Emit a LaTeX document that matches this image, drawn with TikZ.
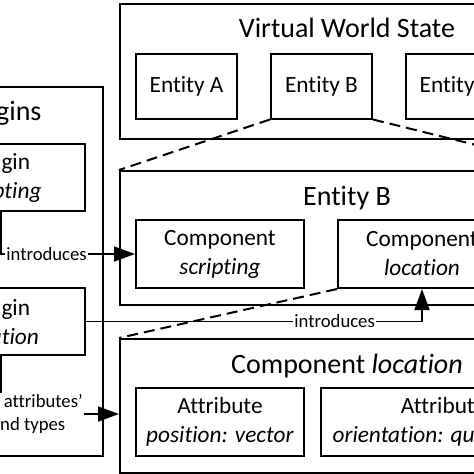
\documentclass[tikz,border=0pt]{standalone}
\usepackage{fontspec}
\setmainfont[RawFeature={-liga;-clig;-calt;-dlig}]{Carlito}
\usetikzlibrary{arrows.meta,positioning}

\begin{document}
\begin{tikzpicture}[x=1pt,y=-1pt,>={Triangle[length=21pt,width=15pt]},
  every node/.style={font=\fontsize{23.3}{29}\selectfont},
  frame/.style={draw,line width=2pt,anchor=north west,inner sep=0pt},
  box/.style={draw,line width=2pt,minimum width=168pt,minimum height=68pt,align=center,inner sep=0pt},
  entbox/.style={box,minimum width=101pt,minimum height=65pt},
  title/.style={anchor=base,font=\fontsize{28}{34}\selectfont},
  note/.style={fill=white,inner sep=1pt,font=\fontsize{18.7}{23}\selectfont},
  conn/.style={->,line width=1.9pt},
  zoomline/.style={line width=2pt,dash pattern=on 11pt off 6pt}]
  \useasboundingbox (0,0) rectangle (474,474);
  \clip (0,0) rectangle (474,474);

  % virtual world
  \node[frame,minimum width=456pt,minimum height=135pt] (world) at (119,2.5) {};
  \node[title] (worldtitle) at (347,37) {Virtual World State};
  \node[entbox] (entA) at (186.5,86) {Entity A};
  \node[entbox] (entB) at (321.5,86) {Entity B};
  \node[entbox] (entC) at (456,86) {Entity C};

  % entity B
  \node[frame,minimum width=456pt,minimum height=134pt] (entframe) at (119,170) {};
  \node[title] (enttitle) at (347,205) {Entity B};
  \node[box] (cscript) at (220,254) {Component\\\textit{scripting}};
  \node[box] (cloc) at (422,254) {Component\\\textit{location}};

  % component location
  \node[frame,minimum width=456pt,minimum height=134pt] (compframe) at (119,338) {};
  \node[title] (comptitle) at (347,373) {Component \textit{location}};
  \node[box] (apos) at (220,422) {Attribute\\\textit{position: vector}};
  \node[box,minimum width=245pt] (aori) at (443.5,422) {Attribute\\\textit{orientation: quaternion}};

  % plugins
  \node[frame,minimum width=202pt,minimum height=369pt] (plugframe) at (-100,86) {};
  \node[title] (plugtitle) at (1,120) {Plugins};
  \node[box,minimum height=67pt] (pscript) at (1,177.5) {Plugin\\\textit{scripting}};
  \node[box,minimum height=67pt] (ploc) at (1,321.5) {Plugin\\\textit{location}};

  % zoom lines
  \draw[zoomline] (entB.south west) -- (entframe.north west);
  \draw[zoomline] (entB.south east) -- (entframe.north east);
  \draw[zoomline] (cloc.south west) -- (compframe.north west);
  \draw[zoomline] (cloc.south east) -- (compframe.north east);

  % connectors
  \coordinate (locin) at (119,414);
  \draw[conn] (pscript) |- (cscript) node[note,pos=0.67] {introduces};
  \draw[conn] (ploc) -| (cloc) node[note,pos=0.37] {introduces};
  \draw[conn] (ploc) |- (locin) node[note,pos=0.5,align=center] {introduces attributes'\\names and types};
\end{tikzpicture}
\end{document}
